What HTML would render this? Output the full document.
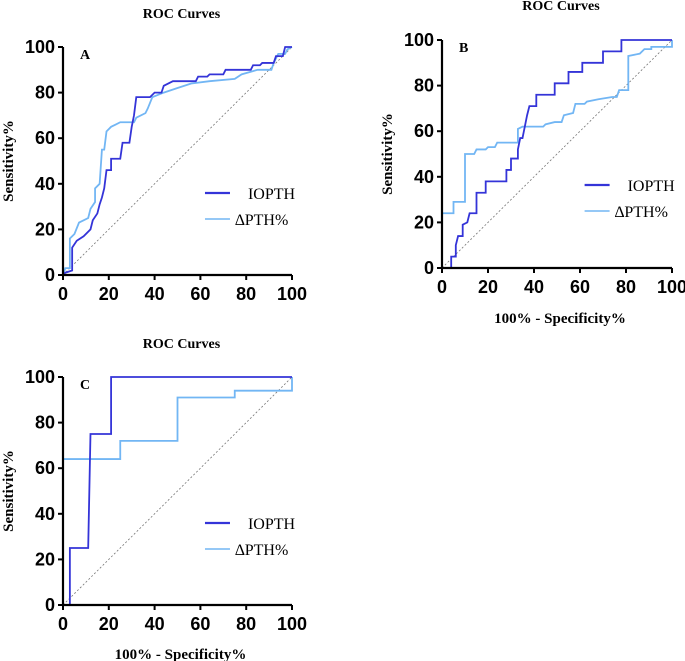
<!DOCTYPE html>
<html><head><meta charset="utf-8"><style>
body{margin:0;background:#fff;width:685px;height:661px;overflow:hidden}
svg{display:block}
.tk{font:bold 18px "Liberation Sans",sans-serif}
.tt{font:bold 14px "Liberation Serif",serif}
.ax{font:bold 15px "Liberation Serif",serif}
.lg{font:16px "Liberation Serif",serif}
</style></head><body>
<svg id="s" width="685" height="661"></svg>
<script>
const ticks=[0,20,40,60,80,100];
const seriesNames=["IOPTH","\u2206PTH%"];
const aIoX=[0,1,4,4,6,9,12,13,15,16,17,18,19,21,21,25,26,29,30,31,32,38,40,43,44,48,58,59,63,64,70,71,82,83,86,87,92,93,96,97,100];
const aIoY=[0,1,2,12,15,17,20,24,27,31,34,38,46,46,51,51,58,58,65,70,78,78,80,80,83,85,85,87,87,88,88,90,90,92,92,93,93,96,96,100,100];
const aDpX=[0,1,3,3,5,7,9,11,12,14,14,16,17,18,19,21,23,25,31,32,36,37,39,44,50,56,64,75,78,85,91,92,94,97,98,100];
const aDpY=[0,3,3,16,18,23,24,25,29,32,38,40,55,55,63,65,66,67,67,69,71,73,78,80,82,84,85,86,88,90,90,93,97,97,99,100];
const bIoX=[0,4,4,6,6,7,9,9,11,12,15,15,19,19,28,28,30,30,33,33,34,35,36,37,38,41,41,49,49,55,55,61,61,70,70,78,78,100];
const bIoY=[0,0,5,5,10,14,14,19,20,24,24,33,33,38,38,43,43,48,48,52,57,57,62,67,71,71,76,76,81,81,86,86,90,90,95,95,100,100];
const bDpX=[0,0,5,5,10,10,14,15,19,20,23,24,33,33,35,44,45,49,52,53,57,58,62,63,68,74,76,77,81,81,86,88,91,91,100,100];
const bDpY=[0,24,24,29,29,50,50,52,52,53,53,55,55,61,62,62,63,64,64,67,68,72,72,73,74,75,75,78,78,93,94,96,96,97,97,100];
const cIoX=[0,3,3,11,12,21,21,100];
const cIoY=[0,0,25,25,75,75,100,100];
const cDpX=[0,0,25,25,50,50,75,75,100,100];
const cDpY=[0,64,64,72,72,91,91,94,94,100];
const NS="http://www.w3.org/2000/svg",S=document.getElementById('s');
function mk(t,a,p){const e=document.createElementNS(NS,t);for(const k in a)e.setAttribute(k,a[k]);(p||S).appendChild(e);return e;}
function panel(key,ox,oy,w,h,titleY,letter,io,dp,legY,xlabY){
 const g=mk('g',{});
 
 
 const X=v=>ox+v/100*w, Y=v=>oy-v/100*h;
 const t=mk('text',{x:X(50)+4,y:titleY,'text-anchor':'middle',class:'tt'},g);t.textContent='ROC Curves';
 
 const l=mk('text',{x:ox+17,y:oy-h+12,class:'tt','font-size':'16'},g);l.textContent=letter;
 
 const d=mk('line',{x1:X(0),y1:Y(0),x2:X(100),y2:Y(100),stroke:'#777','stroke-width':0.8,'stroke-dasharray':'2,2'},g);
 
 const cols=['#3434d8','#72b6f4'];
 [[dp[0],dp[1],1],[io[0],io[1],0]].forEach(([xs,ys,i])=>{
  const p=mk('polyline',{points:xs.map((v,j)=>X(v)+','+Y(ys[j])).join(' '),fill:'none',stroke:cols[i],'stroke-width':1.8},g);
  
 });
 const ax=mk('path',{d:`M${X(0)},${Y(100)}V${Y(0)}H${X(100)}`,fill:'none',stroke:'#000','stroke-width':2.2},g);
 
 ticks.forEach(v=>{
  mk('line',{x1:X(0)-5,x2:X(0),y1:Y(v),y2:Y(v),stroke:'#000','stroke-width':2},g);
  mk('line',{x1:X(v),x2:X(v),y1:Y(0),y2:Y(0)+5,stroke:'#000','stroke-width':2},g);
  const ty=mk('text',{x:X(0)-8,y:Y(v)+6,'text-anchor':'end',class:'tk'},g);ty.textContent=v;
  
  const tx=mk('text',{x:X(v),y:Y(0)+25,'text-anchor':'middle',class:'tk'},g);tx.textContent=v;
  
 });
 const yl=mk('text',{transform:`translate(${ox-50},${Y(50)}) rotate(-90)`,'text-anchor':'middle',class:'ax'},g);yl.textContent='Sensitivity%';
 
 if(xlabY){const xl=mk('text',{x:X(50)+3,y:xlabY,'text-anchor':'middle',class:'ax'},g);xl.textContent='100% - Specificity%';
 }
 seriesNames.forEach((n,i)=>{
  const lx=X(62),ly=legY+i*26;
  const le=mk('line',{x1:lx,x2:lx+25,y1:ly,y2:ly,stroke:cols[i],'stroke-width':i?1.6:2.2},g);
  
  const lt=mk('text',{x:lx+(i?30:43),y:ly+6,class:'lg'},g);lt.textContent=n;
  
 });
}
panel('a',63,275,229,228,18,'A',[aIoX,aIoY],[aDpX,aDpY],193,0);
panel('b',442,268,230,228,10,'B',[bIoX,bIoY],[bDpX,bDpY],185,323);
panel('c',63,605,229,228,348,'C',[cIoX,cIoY],[cDpX,cDpY],523,659);
</script>
</body></html>
